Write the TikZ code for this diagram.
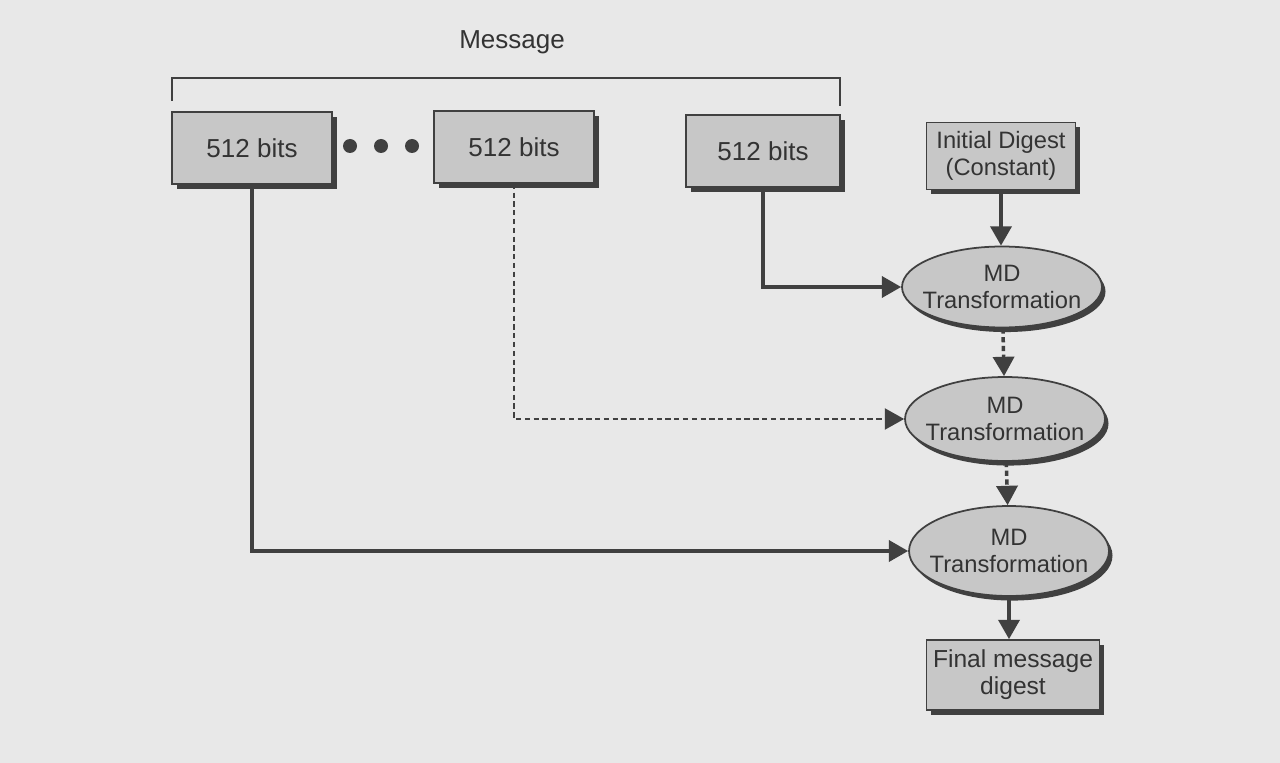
\documentclass[tikz,border=0pt]{standalone}
\usepackage{fontspec}
\setmainfont{Liberation Sans}
\usetikzlibrary{arrows.meta, positioning, shapes.geometric, shadows}

\begin{document}
\begin{tikzpicture}[
    x=0.02cm, y=-0.02cm,
    blockb/.style={rectangle, draw=black!75, fill=black!22, line width=1pt, text=black!80, minimum width=3.2cm, minimum height=1.44cm, align=center, font=\fontsize{14.8}{16}\selectfont, drop shadow={shadow xshift=2.6pt, shadow yshift=-2.6pt, fill=black!75, opacity=1}},
    mdnode/.style={ellipse, draw=black!75, fill=black!22, line width=1pt, text=black!80, minimum width=4cm, minimum height=1.62cm, inner xsep=-6pt, inner ysep=0pt, align=center, font=\fontsize{13.5}{15.5}\selectfont, drop shadow={shadow xshift=2pt, shadow yshift=-2.6pt, fill=black!75, opacity=1}},
    dotb/.style={circle, fill=black!75, minimum size=0.28cm, inner sep=0pt},
    arrow/.style={-{Triangle[length=11pt, width=12pt]}, line width=2pt, draw=black!75},
    dasharrow/.style={arrow, densely dashed}
]
    \fill[black!9] (0,0) rectangle (1280,763);
    \useasboundingbox (0,0) rectangle (1280,763);

    % message blocks
    \node[blockb] (b1) at (252,148) {512 bits};
    \node[blockb] (b2) at (514,147) {512 bits};
    \node[blockb, minimum width=3.08cm] (b3) at (763,151) {512 bits};
    \node[dotb] (d1) at (350,146) {};
    \node[dotb] (d2) at (381,146) {};
    \node[dotb] (d3) at (412,146) {};

    \coordinate (brl) at (172,78);
    \coordinate (brr) at (840,78);
    \draw[line width=1pt, draw=black!75] ([yshift=-0.46cm]brl) -- (brl) -- (brr) -- ([yshift=-0.56cm]brr);
    \node[text=black!80, font=\fontsize{14.8}{16}\selectfont] (msg) at (512,42) {Message};

    % digest chain
    \node[blockb, minimum width=2.98cm, minimum height=1.34cm, font=\fontsize{13.5}{15.5}\selectfont] (init) at (1001,156) {Initial Digest\\(Constant)};
    \node[mdnode] (md1) at (1002,287) {MD\\Transformation};
    \node[mdnode, minimum height=1.68cm] (md2) at (1005,419) {MD\\Transformation};
    \node[mdnode, minimum height=1.8cm] (md3) at (1009,551) {MD\\Transformation};
    \node[blockb, minimum width=3.46cm, minimum height=1.4cm, font=\fontsize{14}{15.5}\selectfont] (final) at (1013,675) {Final message\\digest};

    \draw[arrow] (init) -- (init |- md1.north);
    \draw[dasharrow] (md1) -- (md2);
    \draw[dasharrow] (md2) -- (md3);
    \draw[arrow] (md3) -- (md3 |- final.north);

    \draw[arrow] (b3.south) |- (md1.west);
    \draw[dasharrow, line width=1.1pt] (b2.south) |- (md2.west);
    \draw[arrow] (b1.south) |- (md3.west);
\end{tikzpicture}
\end{document}
